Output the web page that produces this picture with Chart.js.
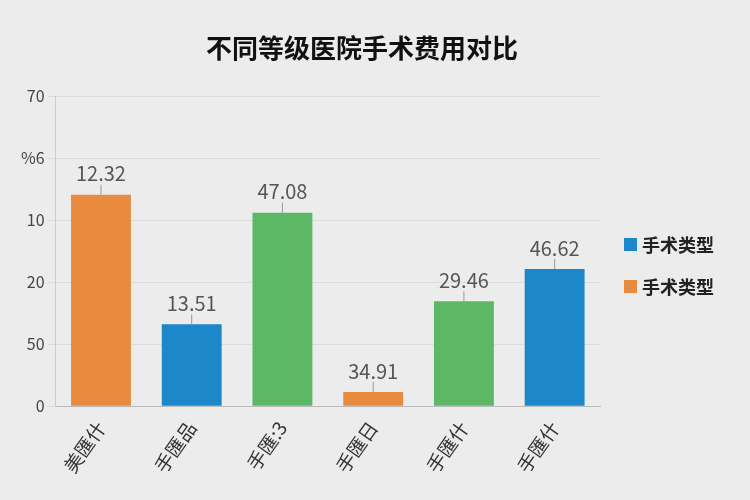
<!DOCTYPE html>
<html><head><meta charset="utf-8">
<script src="https://cdn.jsdelivr.net/npm/chart.js@4"></script>
<style>html,body{margin:0;padding:0;background:#ececec;}#w{width:750px;height:500px;}</style>
</head><body><div id="w"><canvas id="c"></canvas></div>
<script>
const categories = ['美匯什','手匯品','手匯:3','手匯日','手匯什','手匯什'];
const barHeights = [3.41, 1.32, 3.12, 0.23, 1.69, 2.21];
const valueLabels = ['12.32','13.51','47.08','34.91','29.46','46.62'];
const tickLabels = ['0','50','20','10','%6','70'];
const barColors = ['#E98B3E','#1C87C9','#5DB865','#E98B3E','#5DB865','#1C87C9'];
const legendNames = ['手术类型','手术类型'];
const legendColors = ['#1C87C9','#E98B3E'];
const titleText = '不同等级医院手术费用对比';

const font = '"Noto Sans CJK SC", "Noto Sans", sans-serif';
const extras = {
  id:'extras',
  afterDatasetsDraw(chart){
    const ctx = chart.ctx;
    const meta = chart.getDatasetMeta(0);
    ctx.save();
    ctx.fillStyle='#111'; ctx.font='bold 26px '+font; ctx.textAlign='center'; ctx.textBaseline='middle';
    ctx.fillText(titleText, 362, 48);
    meta.data.forEach((b,i)=>{
      ctx.strokeStyle='#999'; ctx.lineWidth=1;
      ctx.beginPath(); ctx.moveTo(b.x,b.y); ctx.lineTo(b.x,b.y-10); ctx.stroke();
      ctx.fillStyle='#555'; ctx.font='20px '+font; ctx.textAlign='center'; ctx.textBaseline='bottom';
      ctx.fillText(valueLabels[i], b.x, b.y-11);
    });
    legendNames.forEach((n,i)=>{
      const y = 245 + i*42;
      ctx.fillStyle=legendColors[i]; ctx.fillRect(624, y-7, 13, 13);
      ctx.fillStyle='#222'; ctx.font='bold 18px '+font; ctx.textAlign='left'; ctx.textBaseline='middle';
      ctx.fillText(n, 642, y);
    });
    ctx.restore();
  }
};
new Chart(document.getElementById('c'), {
  type:'bar',
  data:{labels:categories, datasets:[{data:barHeights, backgroundColor:barColors, barPercentage:0.66, categoryPercentage:1}]},
  options:{
    responsive:true, maintainAspectRatio:false, animation:false,
    layout:{padding:{left:18,right:150,top:96,bottom:20}},
    plugins:{legend:{display:false}, tooltip:{enabled:false}, title:{display:false}},
    scales:{
      x:{grid:{display:false}, border:{color:'#bbb'},
        ticks:{color:'#333', font:{family:font,size:19}, maxRotation:55, minRotation:55}},
      y:{min:0,max:5, border:{color:'#ccc'}, grid:{color:'#dcdcdc'},
        ticks:{stepSize:1, color:'#444', font:{family:font,size:16}, callback:(v)=>tickLabels[v]}}
    }
  },
  plugins:[extras]
});
</script></body></html>
